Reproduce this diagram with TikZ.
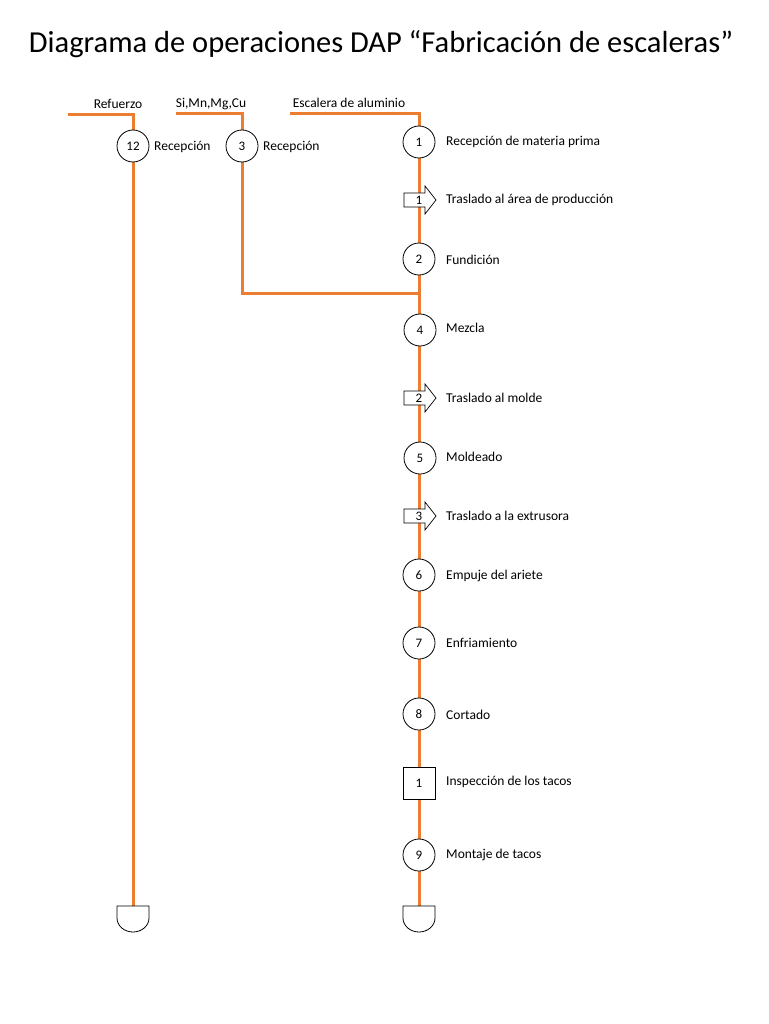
\documentclass[tikz,border=0pt]{standalone}
\usepackage{fontspec}
\setmainfont{Carlito}
\definecolor{flow}{RGB}{237,125,49}
\begin{document}
\begin{tikzpicture}[x=1pt,y=-1pt,
 flowline/.style={draw=flow,line width=3pt},
 op/.style={circle,draw,fill=white,minimum size=32pt,inner sep=0pt,line width=0.8pt,font=\fontsize{13}{14}\selectfont},
 insp/.style={rectangle,draw,fill=white,minimum size=32pt,inner sep=0pt,line width=0.8pt,font=\fontsize{13}{14}\selectfont},
 lbl/.style={anchor=west,font=\fontsize{13.5}{15}\selectfont,inner sep=0pt},
 hdr/.style={font=\fontsize{13.5}{15}\selectfont,inner sep=0pt}]
\useasboundingbox (0,0) rectangle (768,1024);
\node[font=\fontsize{30.5}{34}\selectfont] (title) at (381,44) {Diagrama de operaciones DAP “Fabricación de escaleras”};
\coordinate (r0) at (68,115); \coordinate (r1) at (133,115);
\coordinate (s0) at (176,114); \coordinate (s1) at (242,114);
\coordinate (m0) at (290,114); \coordinate (m1) at (419,114);
\coordinate (j1) at (242,293); \coordinate (j2) at (419,293);
\coordinate (sl) at (133,906); \coordinate (sm) at (419,906);
\draw[flowline] (r0) -- (r1) -- (sl);
\draw[flowline] (s0) -- (s1) -- (j1) -- (j2);
\draw[flowline] (m0) -- (m1) -- (sm);
\node[hdr] (hr) at (118,104) {Refuerzo};
\node[hdr] (hs) at (211,104) {Si,Mn,Mg,Cu};
\node[hdr] (hm) at (349,103) {Escalera de aluminio};
\node[op] (c12) at (133,146) {12}; \node[lbl] at (154,147) {Recepción};
\node[op] (c3) at (242,146) {3}; \node[lbl] at (263,147) {Recepción};
\node[op] (c1) at (419,142) {1}; \node[lbl] at (446,142) {Recepción de materia prima};
\node[op] (c2) at (419,259) {2}; \node[lbl] at (446,260) {Fundición};
\node[op] (c4) at (420,330) {4}; \node[lbl] at (446,328) {Mezcla};
\node[op] (c5) at (420,458) {5}; \node[lbl] at (446,457) {Moldeado};
\node[op] (c6) at (419,575) {6}; \node[lbl] at (446,576) {Empuje del ariete};
\node[op] (c7) at (419,643) {7}; \node[lbl] at (446,643) {Enfriamiento};
\node[op] (c8) at (419,714) {8}; \node[lbl] at (446,715) {Cortado};
\node[insp] (i1) at (419,783) {1}; \node[lbl] at (446,782) {Inspección de los tacos};
\node[op] (c9) at (419,855) {9}; \node[lbl] at (446,855) {Montaje de tacos};
\foreach \y/\n/\t in {200/1/Traslado al área de producción,398/2/Traslado al molde,516/3/Traslado a la extrusora}{
 \draw[fill=white,line width=0.7pt] (404,\y-7) -- (425,\y-7) -- (425,\y-14) -- (436,\y) -- (425,\y+14) -- (425,\y+7) -- (404,\y+7) -- cycle;
 \node[font=\fontsize{13}{14}\selectfont] at (419,\y) {\n};
 \node[lbl] at (446,\y) {\t};
}
\foreach \x in {133,419}{
 \draw[fill=white,line width=0.8pt] (\x-16,906) -- (\x+16,906) -- (\x+16,918) arc (0:180:16 and 14) -- cycle;
}
\end{tikzpicture}
\end{document}
